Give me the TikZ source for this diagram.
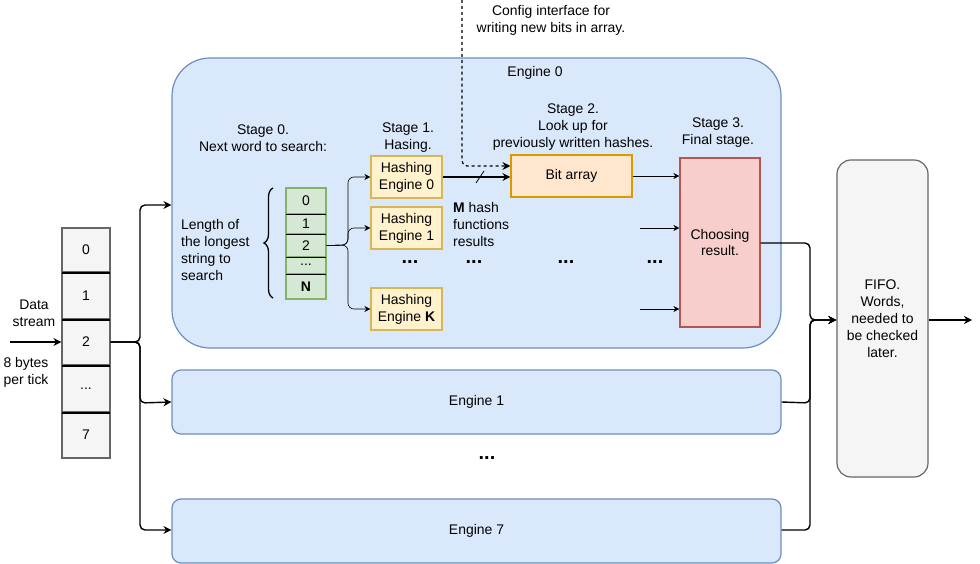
\documentclass[tikz,border=0pt]{standalone}
\usepackage{fontspec}
\setmainfont{Liberation Sans}
\usetikzlibrary{arrows.meta,decorations.pathreplacing}
\definecolor{eb}{HTML}{DAE8FC}\definecolor{ed}{HTML}{6C8EBF}
\definecolor{gf}{HTML}{F5F5F5}\definecolor{gd}{HTML}{666666}
\definecolor{grf}{HTML}{D5E8D4}\definecolor{grd}{HTML}{82B366}
\definecolor{yf}{HTML}{FFF2CC}\definecolor{yd}{HTML}{D6B656}
\definecolor{of}{HTML}{FFE6CC}\definecolor{od}{HTML}{D79B00}
\definecolor{rf}{HTML}{F8CECC}\definecolor{rd}{HTML}{B85450}
\begin{document}
\begin{tikzpicture}[x=1bp,y=-1bp,font=\fontsize{14}{17}\selectfont,
  box/.style={draw,line width=1.2pt,inner sep=0pt},
  he/.style={box,fill=yf,draw=yd,minimum width=71bp,minimum height=42bp,align=center},
  thk/.style={line width=1.4pt,-{Stealth[length=8bp,width=8bp]},rounded corners=5bp},
  thn/.style={line width=0.6pt,-{Stealth[length=6bp,width=6bp]}},
  txt/.style={align=center,inner sep=0pt},
  dots/.style={txt,font=\bfseries\fontsize{20}{20}\selectfont}]
\useasboundingbox (0,0) rectangle (980,564);
% engines
\node[box,fill=eb,draw=ed,rounded corners=38bp,minimum width=609bp,minimum height=290bp] (e0) at (476.5,203) {};
\node[txt] (e0l) at (535,73) {Engine 0};
\node[box,fill=eb,draw=ed,rounded corners=9bp,minimum width=609bp,minimum height=64bp] (e1) at (476.5,402) {Engine 1};
\node[box,fill=eb,draw=ed,rounded corners=9bp,minimum width=609bp,minimum height=64bp] (e7) at (476.5,531) {Engine 7};
\node[dots] (edots) at (487,458) {...};
% FIFO
\node[box,fill=gf,draw=gd,rounded corners=14bp,minimum width=91bp,minimum height=317bp,align=center] (fifo) at (882.5,318.5) {FIFO.\\Words,\\needed to\\be checked\\later.};
\coordinate (out) at (972,320);
\draw[thk] (fifo.east|-out) -- (out);
% input array
\begin{scope}[every node/.style={box,fill=gf,draw=gd,minimum width=48bp,inner sep=0pt}]
\node[minimum height=44bp] (i0) at (86,250) {0};
\node[minimum height=47bp] (i1) at (86,295.5) {1};
\node[minimum height=46bp] (i2) at (86,342) {2};
\node[minimum height=47bp] (i3) at (86,388.5) {...};
\node[minimum height=46bp] (i4) at (86,435) {7};
\end{scope}
\foreach \a/\b in {i0/i1,i1/i2,i2/i3,i3/i4}{\draw[line width=2pt,black] ([xshift=0.6bp]\a.south west) -- ([xshift=-0.6bp]\a.south east);}
\coordinate (ds) at (10,342);
\draw[thk] (ds) -- (i2.west);
\node[txt] (dsl) at (34,313) {Data\\stream};
\node[txt] (bpl) at (26,372) {8 bytes\\per tick};
\draw[thk] (i2.east) -- (140,342) -- (140,205) -- (e0.west|-0,205);
\draw[thk] (i2.east) -- (140,342) -- (140,403) -- (e1.west);
\draw[thk] (i2.east) -- (140,342) -- (140,530) -- (e7.west|-0,530);
% stage 0
\node[txt] (s0) at (263,138) {Stage 0.\\Next word to search:};
\begin{scope}[every node/.style={box,fill=grf,draw=grd,minimum width=40bp,inner sep=0pt}]
\node[minimum height=26bp] (g0) at (306,201) {0};
\node[minimum height=20bp] (g1) at (306,224) {1};
\node[minimum height=23bp] (g2) at (306,245.5) {2};
\node[minimum height=17bp] (g3) at (306,265.5) {\raisebox{2bp}{...}};
\node[minimum height=25bp] (g4) at (306,286.5) {\textbf{N}};
\end{scope}
\foreach \a in {g0,g1,g2,g3}{\draw[line width=0.9pt] ([xshift=0.6bp]\a.south west) -- ([xshift=-0.6bp]\a.south east);}
\draw[line width=1.3pt,decorate,decoration={brace,amplitude=9bp}] (273,298) -- (273,188);
\node[txt,align=left,anchor=west] (lls) at (181,250) {Length of\\the longest\\string to\\search};
% stage 1
\node[txt] (s1) at (408,138) {Stage 1.\\Hasing.};
\node[he] (h0) at (406.5,177) {Hashing\\Engine 0};
\node[he] (h1) at (406.5,228) {Hashing\\Engine 1};
\node[he] (hk) at (406.5,309) {Hashing\\Engine \textbf{K}};
\begin{scope}[thn,rounded corners=6bp]
\draw (g2.east) -- (348,245) -- (348,177) -- (h0.west);
\draw (g2.east) -- (348,245) -- (348,228) -- (h1.west);
\draw (g2.east) -- (348,245) -- (348,309) -- (hk.west);
\end{scope}
\node[dots] (d1) at (410,262) {...};
\node[dots] (d2) at (474,262) {...};
\node[dots] (d3) at (566,262) {...};
\node[dots] (d4) at (655,262) {...};
% stage 2
\node[txt] (s2) at (573,127) {Stage 2.\\Look up for\\previously written hashes.};
\node[box,fill=of,draw=od,minimum width=121bp,minimum height=42bp] (ba) at (571.5,176) {Bit array};
\draw[thk] (h0.east) -- (ba.west|-h0.east);
\draw[line width=0.8pt] (476,183) -- (484,171);
\node[txt,align=left,anchor=north west] (mh) at (453,202) {\textbf{M} hash\\functions\\results};
\coordinate (cfg) at (462,0);
\draw[line width=1.2pt,dashed,-{Stealth[length=8bp,width=8bp]},rounded corners=5bp] (cfg) -- (462,166) -- (ba.west|-0,166);
\node[txt] (cfgl) at (551,20) {Config interface for\\writing new bits in array.};
% stage 3
\node[txt] (s3) at (718,133) {Stage 3.\\Final stage.};
\node[box,fill=rf,draw=rd,minimum width=80bp,minimum height=169bp,align=center] (cr) at (720,242.5) {Choosing\\result.};
\draw[thn] (ba.east) -- (cr.west|-ba.east);
\coordinate (a1) at (640,228); \coordinate (a2) at (640,309);
\draw[thn] (a1) -- (cr.west|-a1);
\draw[thn] (a2) -- (cr.west|-a2);
% to FIFO
\draw[thk] (cr.east|-0,243) -- (810,243) -- (810,320) -- (fifo.west|-0,320);
\draw[thk] (e1.east) -- (810,403) -- (810,320) -- (fifo.west|-0,320);
\draw[thk] (e7.east|-0,530) -- (810,530) -- (810,320) -- (fifo.west|-0,320);
\end{tikzpicture}
\end{document}
